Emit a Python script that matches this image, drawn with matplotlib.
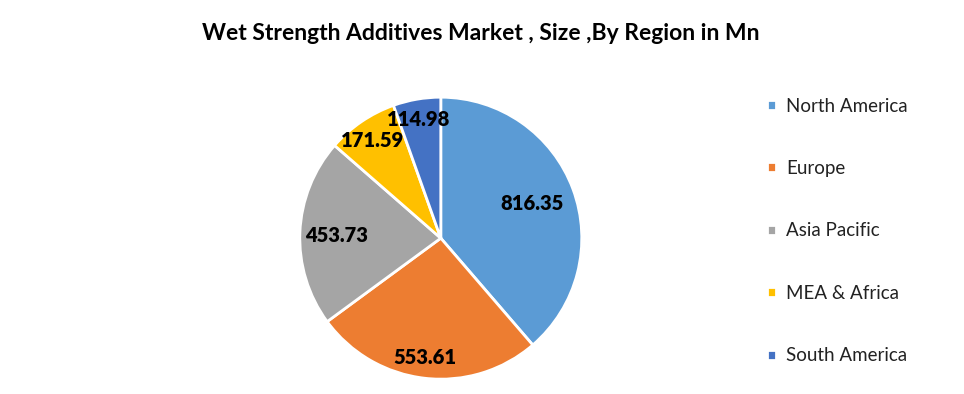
import matplotlib
matplotlib.use("Agg")
import matplotlib.pyplot as plt

regions = ["North America", "Europe", "Asia Pacific", "MEA & Africa", "South America"]
values = [816.35, 553.61, 453.73, 171.59, 114.98]
value_labels = ["816.35", "553.61", "453.73", "171.59", "114.98"]
colors = ["#5B9BD5", "#ED7D31", "#A5A5A5", "#FFC000", "#4472C4"]
# label placement (fraction of radius), chosen to mimic Excel "best fit"
label_pos = [(0.645, 0.248), (-0.113, -0.844), (-0.738, 0.021), (-0.482, 0.695), (-0.156, 0.844)]

plt.rcParams['font.family'] = ['Lato', 'DejaVu Sans']

fig = plt.figure(figsize=(9.64, 3.94), dpi=100)
ax = fig.add_axes([0.311, 0.035, 0.2925, 0.721])

wedges, _ = ax.pie(values, colors=colors, startangle=90, counterclock=False,
                   wedgeprops=dict(edgecolor="white", linewidth=2))
ax.set_aspect('equal')
ax.set_xlim(-1.0, 1.0)
ax.set_ylim(-1.0, 1.0)

for (x, y), lab in zip(label_pos, value_labels):
    ax.text(x, y, lab, ha="center", va="center", fontsize=14.5, fontweight="heavy", color="black")

fig.text(0.499, 0.916, "Wet Strength Additives Market , Size ,By Region in Mn",
         ha="center", va="center", fontsize=16.5, fontweight="bold", color="black")

leg = fig.legend(wedges, regions, loc="upper left", bbox_to_anchor=(0.788, 0.771),
                 frameon=False, fontsize=13.5, handlelength=0.45, handleheight=0.45,
                 handletextpad=0.55, labelspacing=2.42, borderaxespad=0)
for t in leg.get_texts():
    t.set_color("#222222")

fig.savefig("out.png", dpi=100)
